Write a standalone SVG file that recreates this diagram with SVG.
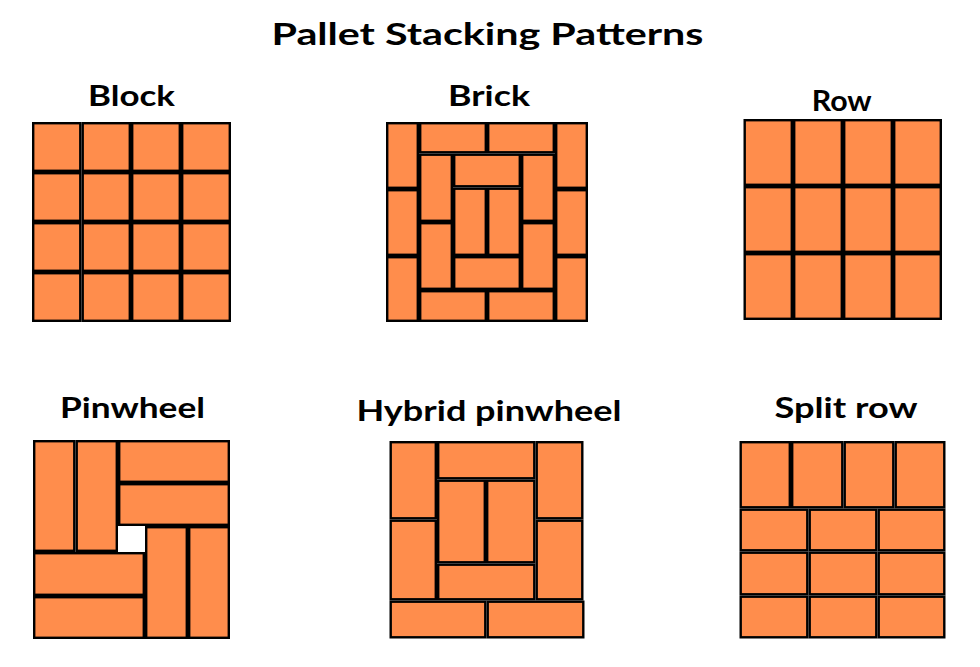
<svg xmlns="http://www.w3.org/2000/svg" width="980" height="667" viewBox="0 0 980 667">
<style>
.b{fill:#FF8D4C;stroke:#000;stroke-width:2.4}
.t{font-family:Lato,"Liberation Sans",sans-serif;font-weight:700;fill:#000;text-anchor:middle}
</style>
<rect width="980" height="667" fill="#fff"/>
<text class="t" x="487.5" y="45" font-size="31" textLength="432" lengthAdjust="spacingAndGlyphs">Pallet Stacking Patterns</text>

<g id="block">
<text class="t" x="131.5" y="106" font-size="29" textLength="87" lengthAdjust="spacingAndGlyphs">Block</text>
<rect class="b" x="33.2" y="123.2" width="47.1" height="47.6"/>
<rect class="b" x="82.7" y="123.2" width="47.1" height="47.6"/>
<rect class="b" x="132.2" y="123.2" width="47.6" height="47.6"/>
<rect class="b" x="182.2" y="123.2" width="47.6" height="47.6"/>
<rect class="b" x="33.2" y="173.2" width="47.1" height="47.6"/>
<rect class="b" x="82.7" y="173.2" width="47.1" height="47.6"/>
<rect class="b" x="132.2" y="173.2" width="47.6" height="47.6"/>
<rect class="b" x="182.2" y="173.2" width="47.6" height="47.6"/>
<rect class="b" x="33.2" y="223.2" width="47.1" height="47.6"/>
<rect class="b" x="82.7" y="223.2" width="47.1" height="47.6"/>
<rect class="b" x="132.2" y="223.2" width="47.6" height="47.6"/>
<rect class="b" x="182.2" y="223.2" width="47.6" height="47.6"/>
<rect class="b" x="33.2" y="273.2" width="47.1" height="47.6"/>
<rect class="b" x="82.7" y="273.2" width="47.1" height="47.6"/>
<rect class="b" x="132.2" y="273.2" width="47.6" height="47.6"/>
<rect class="b" x="182.2" y="273.2" width="47.6" height="47.6"/>
</g>

<g id="brick">
<text class="t" x="489" y="106" font-size="29" textLength="82" lengthAdjust="spacingAndGlyphs">Brick</text>
<rect class="b" x="387.2" y="123.2" width="30.6" height="64.6"/>
<rect class="b" x="387.2" y="190.2" width="30.6" height="64.6"/>
<rect class="b" x="387.2" y="257.2" width="30.6" height="63.6"/>
<rect class="b" x="556.2" y="123.2" width="30.6" height="64.6"/>
<rect class="b" x="556.2" y="190.2" width="30.6" height="64.6"/>
<rect class="b" x="556.2" y="257.2" width="30.6" height="63.6"/>
<rect class="b" x="420.2" y="123.2" width="65.6" height="29.1"/>
<rect class="b" x="488.2" y="123.2" width="65.6" height="29.1"/>
<rect class="b" x="420.2" y="291.2" width="65.6" height="29.6"/>
<rect class="b" x="488.2" y="291.2" width="65.6" height="29.6"/>
<rect class="b" x="420.2" y="154.7" width="31.6" height="66.1"/>
<rect class="b" x="420.2" y="223.2" width="31.6" height="65.6"/>
<rect class="b" x="522.2" y="154.7" width="31.6" height="66.1"/>
<rect class="b" x="522.2" y="223.2" width="31.6" height="65.6"/>
<rect class="b" x="454.2" y="154.7" width="65.6" height="31.6"/>
<rect class="b" x="454.2" y="257.2" width="65.6" height="31.6"/>
<rect class="b" x="454.2" y="188.7" width="31.6" height="66.1"/>
<rect class="b" x="488.2" y="188.7" width="31.6" height="66.1"/>
</g>

<g id="row">
<text class="t" x="841.7" y="111" font-size="29" textLength="60" lengthAdjust="spacingAndGlyphs">Row</text>
<rect class="b" x="744.7" y="120.2" width="47.1" height="64.6"/>
<rect class="b" x="794.2" y="120.2" width="47.6" height="64.6"/>
<rect class="b" x="844.2" y="120.2" width="47.6" height="64.6"/>
<rect class="b" x="894.2" y="120.2" width="46.6" height="64.6"/>
<rect class="b" x="744.7" y="187.2" width="47.1" height="64.6"/>
<rect class="b" x="794.2" y="187.2" width="47.6" height="64.6"/>
<rect class="b" x="844.2" y="187.2" width="47.6" height="64.6"/>
<rect class="b" x="894.2" y="187.2" width="46.6" height="64.6"/>
<rect class="b" x="744.7" y="254.2" width="47.1" height="64.6"/>
<rect class="b" x="794.2" y="254.2" width="47.6" height="64.6"/>
<rect class="b" x="844.2" y="254.2" width="47.6" height="64.6"/>
<rect class="b" x="894.2" y="254.2" width="46.6" height="64.6"/>
</g>

<g id="pinwheel">
<text class="t" x="132.5" y="418" font-size="29" textLength="145" lengthAdjust="spacingAndGlyphs">Pinwheel</text>
<rect class="b" x="34.2" y="441.2" width="40.1" height="109.6"/>
<rect class="b" x="76.7" y="441.2" width="40.1" height="109.6"/>
<rect class="b" x="119.2" y="441.2" width="109.6" height="40.6"/>
<rect class="b" x="119.2" y="484.2" width="109.6" height="40.6"/>
<rect class="b" x="146.2" y="527.2" width="40.6" height="110.6"/>
<rect class="b" x="189.2" y="527.2" width="39.6" height="110.6"/>
<rect class="b" x="34.2" y="553.2" width="109.6" height="41.6"/>
<rect class="b" x="34.2" y="597.2" width="109.6" height="40.6"/>
</g>

<g id="hybrid-pinwheel">
<text class="t" x="489" y="421" font-size="29" textLength="265" lengthAdjust="spacingAndGlyphs">Hybrid pinwheel</text>
<rect class="b" x="390.7" y="442.2" width="45.1" height="76.1"/>
<rect class="b" x="390.7" y="520.7" width="45.1" height="78.6"/>
<rect class="b" x="536.7" y="442.2" width="45.6" height="76.1"/>
<rect class="b" x="536.7" y="520.7" width="45.6" height="78.6"/>
<rect class="b" x="438.2" y="442.2" width="96.1" height="36.1"/>
<rect class="b" x="438.2" y="480.7" width="46.6" height="81.6"/>
<rect class="b" x="487.2" y="480.7" width="47.1" height="81.6"/>
<rect class="b" x="438.2" y="564.7" width="96.1" height="34.6"/>
<rect class="b" x="390.7" y="601.7" width="94.6" height="35.6"/>
<rect class="b" x="487.7" y="601.7" width="95.6" height="35.6"/>
</g>

<g id="split-row">
<text class="t" x="846" y="418" font-size="29" textLength="143" lengthAdjust="spacingAndGlyphs">Split row</text>
<rect class="b" x="740.7" y="442.2" width="49.1" height="65.1"/>
<rect class="b" x="792.2" y="442.2" width="50.1" height="65.1"/>
<rect class="b" x="844.7" y="442.2" width="48.6" height="65.1"/>
<rect class="b" x="895.7" y="442.2" width="48.6" height="65.1"/>
<rect class="b" x="740.7" y="509.7" width="66.6" height="40.6"/>
<rect class="b" x="809.7" y="509.7" width="66.6" height="40.6"/>
<rect class="b" x="878.7" y="509.7" width="65.6" height="40.6"/>
<rect class="b" x="740.7" y="552.7" width="66.6" height="41.6"/>
<rect class="b" x="809.7" y="552.7" width="66.6" height="41.6"/>
<rect class="b" x="878.7" y="552.7" width="65.6" height="41.6"/>
<rect class="b" x="740.7" y="596.7" width="66.6" height="40.6"/>
<rect class="b" x="809.7" y="596.7" width="66.6" height="40.6"/>
<rect class="b" x="878.7" y="596.7" width="65.6" height="40.6"/>
</g>
</svg>
